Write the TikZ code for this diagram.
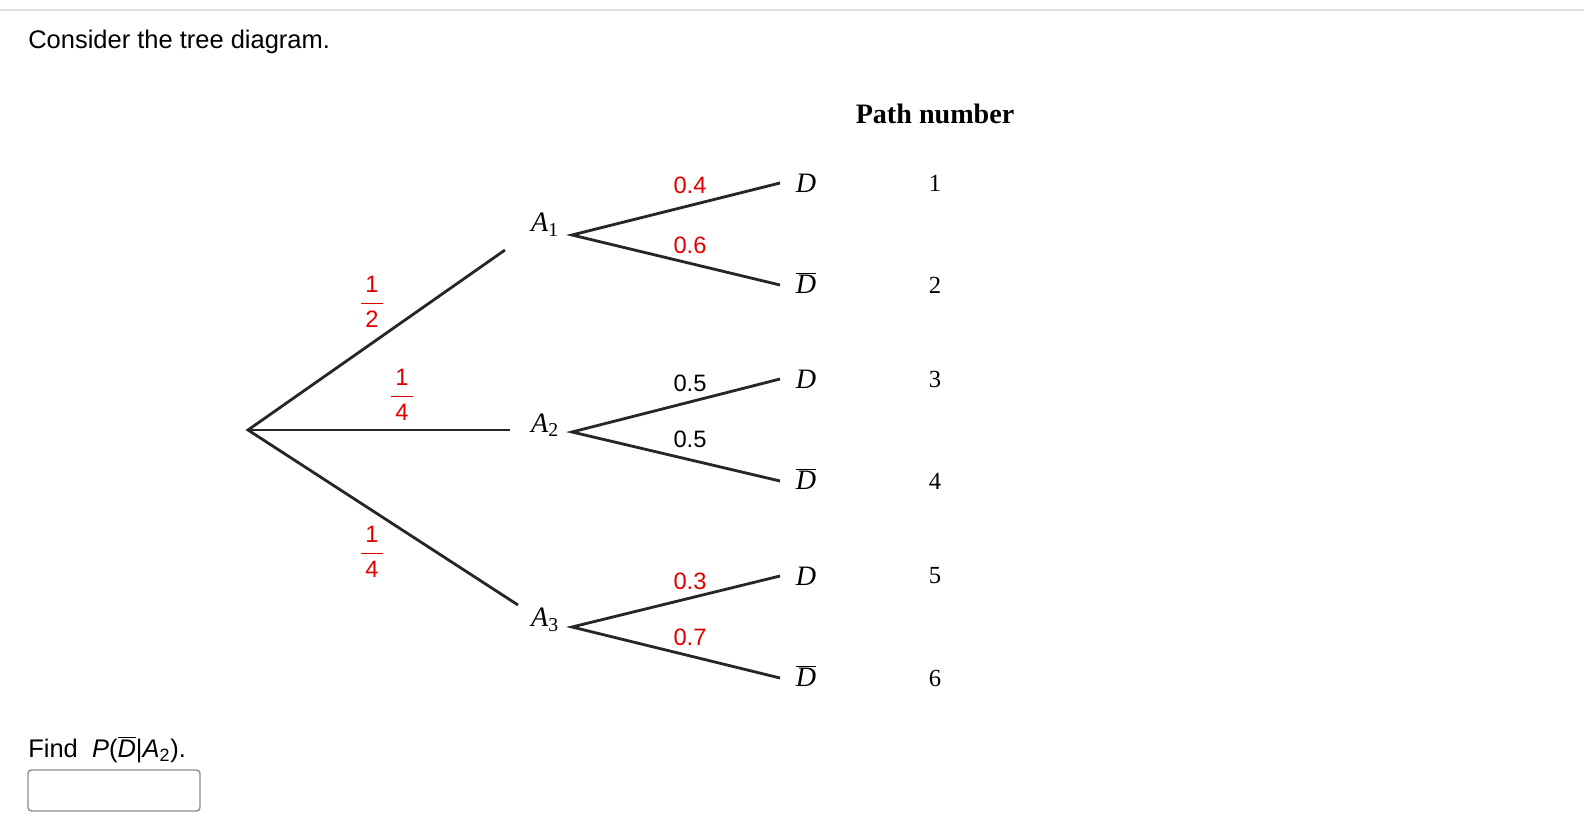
\documentclass[tikz,border=0pt]{standalone}
\usepackage{fontspec}
\setmainfont{Liberation Serif}
\newfontfamily\sansf{Liberation Sans}
\definecolor{redp}{RGB}{225,0,0}
\tikzset{
  br/.style={line width=1.6pt, draw=black!85},
  lab/.style={font=\fontsize{16}{18}\selectfont, inner sep=0pt},
  num/.style={font=\fontsize{14}{16}\selectfont, inner sep=0pt},
  pr/.style={font=\sansf\fontsize{13.5}{15}\selectfont, inner sep=0pt},
  prr/.style={pr, text=redp},
  fr/.style={font=\sansf\fontsize{13.5}{15}\selectfont, text=redp, inner sep=0pt}
}
\newcommand{\Dbr}{$\overline{\mbox{\textit{D}}}$}
\newcommand{\fracr}[2]{$\displaystyle\frac{\mbox{\,#1\,}}{\mbox{\,#2\,}}$}
\begin{document}
\begin{tikzpicture}[x=0.02cm,y=-0.02cm]
\useasboundingbox (0,0) rectangle (1584,834);
\draw[black!12, line width=1pt] (0,10) -- (1584,10);
\node[anchor=west, font=\sansf\fontsize{14.5}{16}\selectfont, inner sep=0pt] (title) at (28,42) {Consider the tree diagram.};
\node[font=\bfseries\fontsize{16}{18}\selectfont, inner sep=0pt] (pn) at (935,114) {Path number};
\coordinate (r) at (248,430);
\coordinate (e1) at (505,250);
\coordinate (e2) at (510,430);
\coordinate (e3) at (518,605);
\draw[br] (e1) -- (r) -- (e3);
\draw[br] (r) -- (e2);
\node[lab] (A1) at (545,225) {\textit{A}\textsubscript{1}};
\node[lab] (A2) at (545,425) {\textit{A}\textsubscript{2}};
\node[lab] (A3) at (545,620) {\textit{A}\textsubscript{3}};
\foreach \i/\y/\ya/\yb in {1/235/183/285, 2/432/379/481, 3/627/576/678}{
  \coordinate (s\i) at (572,\y);
  \coordinate (u\i) at (780,\ya);
  \coordinate (d\i) at (780,\yb);
  \draw[br] (u\i) -- (s\i) -- (d\i);
  \node[lab] (D\i) at (806,\ya) {\textit{D}};
  \node[lab] (Db\i) at (806,\yb-2) {\Dbr};
}
\foreach \n/\y in {1/183,2/285,3/379,4/481,5/576,6/678}
  \node[num] (n\n) at (935,\y) {\n};
\node[prr] (p1) at (690,185) {0.4};
\node[prr] (p2) at (690,245) {0.6};
\node[pr] (p3) at (690,383) {0.5};
\node[pr] (p4) at (690,439) {0.5};
\node[prr] (p5) at (690,581) {0.3};
\node[prr] (p6) at (690,637) {0.7};
\node[fr] (f1) at (372,302) {\fracr{1}{2}};
\node[fr] (f2) at (402,395) {\fracr{1}{4}};
\node[fr] (f3) at (372,552) {\fracr{1}{4}};
\node[anchor=west, font=\sansf\fontsize{14.5}{16}\selectfont, inner sep=0pt] (find) at (28,750) {Find\ \ \textit{P}(\Dbr|\textit{A}\textsubscript{2}).};
\draw[black!45, rounded corners=2pt, line width=0.8pt] (28,770) rectangle (200,811);
\end{tikzpicture}
\end{document}
